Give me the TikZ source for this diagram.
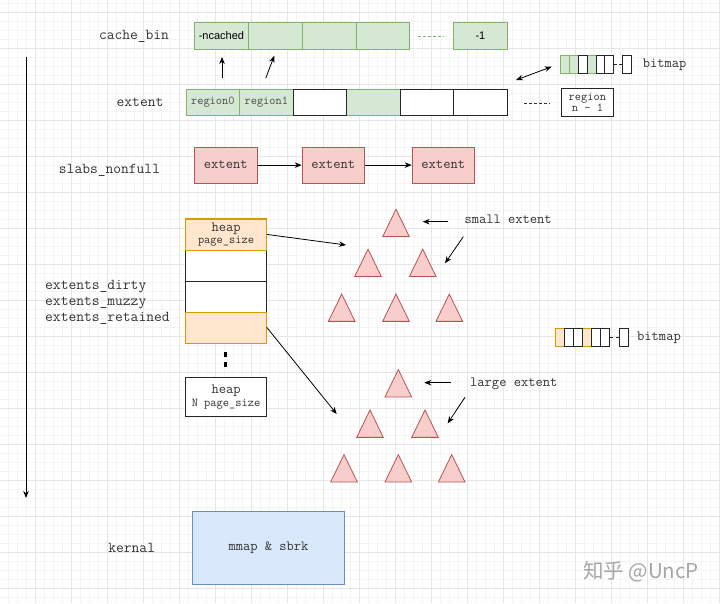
\documentclass[tikz,border=0pt]{standalone}
\usepackage{fontspec}
\setmainfont{Liberation Sans}
\newfontfamily\cjkfont{Noto Sans CJK SC}
\usetikzlibrary{arrows.meta,calc}
\definecolor{gfill}{HTML}{D5E8D4}\definecolor{gline}{HTML}{82B366}
\definecolor{rfill}{HTML}{F8CECC}\definecolor{rline}{HTML}{B85450}
\definecolor{ofill}{HTML}{FFE6CC}\definecolor{oline}{HTML}{D79B00}
\definecolor{bfill}{HTML}{DAE8FC}\definecolor{bline}{HTML}{6C8EBF}
\definecolor{txt}{HTML}{333333}
\definecolor{gridmaj}{HTML}{E6E6E6}\definecolor{gridmin}{HTML}{F4F4F4}
\tikzset{
  base/.style={inner sep=0pt, anchor=north west, line width=0.8pt},
  gcell/.style={base, draw=gline, fill=gfill},
  wcell/.style={base, draw=black!85, fill=white},
  ocell/.style={base, draw=oline, fill=ofill},
  rcell/.style={base, draw=rline, fill=rfill},
  bcell/.style={base, draw=bline, fill=bfill},
  mono/.style={font=\ttfamily\fontsize{15.1}{16}\selectfont, text=txt, inner sep=0pt},
  monos/.style={font=\ttfamily\fontsize{12.1}{11.8}\selectfont, text=txt},
  monom/.style={font=\ttfamily\fontsize{14.1}{15}\selectfont, text=txt},
  sans/.style={font=\fontsize{11}{13}\selectfont, text=black},
  arr/.style={line width=0.8pt, -{Stealth[length=7pt,width=5.5pt]}},
  darr/.style={line width=0.8pt, {Stealth[length=7pt,width=5.5pt]}-{Stealth[length=7pt,width=5.5pt]}},
  tri/.pic={\draw[line width=0.8pt, draw=rline, fill=rfill] (-13.3,13.65) -- (0,-13.65) -- (13.3,13.65) -- cycle;}
}
\begin{document}
\begin{tikzpicture}[x=1pt,y=-1pt]
\useasboundingbox (0,0) rectangle (720,603);
\fill[white] (0,0) rectangle (720,603);
% grid
\foreach \k in {0,...,80} {\draw[gridmin, line width=0.5pt] ({-0.5+9*\k},0) -- ({-0.5+9*\k},603);}
\foreach \k in {0,...,67} {\draw[gridmin, line width=0.5pt] (0,{3+9*\k}) -- (720,{3+9*\k});}
\foreach \k in {1,...,20} {\draw[gridmaj, line width=0.6pt] ({-0.5+36*\k},0) -- ({-0.5+36*\k},603);}
\foreach \k in {0,...,16} {\draw[gridmaj, line width=0.6pt] (0,{12+36*\k}) -- (720,{12+36*\k});}

% left long arrow
\coordinate (la1) at (26,57);
\coordinate (la2) at (26,498);
\draw[arr] (la1) -- (la2);

% cache_bin row
\node[mono] (lcache) at (134,36) {cache\_bin};
\node[gcell, minimum width=54pt, minimum height=27pt] (c1) at (194,22) {};
\node[sans] at (c1.center) {-ncached};
\node[gcell, minimum width=54pt, minimum height=27pt] (c2) at (248,22) {};
\node[gcell, minimum width=54pt, minimum height=27pt] (c3) at (302,22) {};
\node[gcell, minimum width=53pt, minimum height=27pt] (c4) at (356,22) {};
\node[gcell, minimum width=54pt, minimum height=27pt] (cL) at (453,22) {};
\node[sans] at (cL.center) {-1};
\draw[gline, line width=0.8pt, dash pattern=on 3pt off 2pt] (c4.east) ++(8,0) coordinate (gd1) -- ($(cL.west)+(-10,0)$) coordinate (gd2);

% up arrows
\coordinate (u1a) at (222,78); \coordinate (u1b) at (222,57);
\coordinate (u2a) at (265.7,78.3); \coordinate (u2b) at (274.3,55.7);
\draw[arr] (u1a) -- (u1b);
\draw[arr] (u2a) -- (u2b);

% extent row
\node[mono] (lext) at (140,102) {extent};
\node[gcell, minimum width=53.5pt, minimum height=26.5pt] (e1) at (185.7,88.5) {};
\node[monos, text=black!70] at (e1.center) {region0};
\node[gcell, minimum width=53.5pt, minimum height=26.5pt] (e2) at (239.2,88.5) {};
\node[monos, text=black!70] at (e2.center) {region1};
\node[gcell, minimum width=53.5pt, minimum height=26.5pt] (e4) at (346.2,88.5) {};
\node[wcell, minimum width=53.5pt, minimum height=26.5pt] (e3) at (292.7,88.5) {};
\node[wcell, minimum width=53.5pt, minimum height=26.5pt] (e5) at (399.7,88.5) {};
\node[wcell, minimum width=53.5pt, minimum height=26.5pt] (e6) at (453.2,88.5) {};
\coordinate (dd1) at (524,103.3); \coordinate (dd2) at (549.3,103.3);
\draw[black!80, line width=0.8pt, dash pattern=on 3pt off 2pt] (dd1) -- (dd2);
\node[wcell, minimum width=52.6pt, minimum height=27.4pt, align=center] (en) at (560.7,88.3) {};
\node[monos, align=center] at (en.center) {region\\n - 1};

% double arrow and top bitmap
\coordinate (da1) at (516,80); \coordinate (da2) at (551.7,66.7);
\draw[darr] (da1) -- (da2);
\node[gcell, minimum width=9.3pt, minimum height=18.3pt] (tb1) at (560,55) {};
\node[gcell, minimum width=9pt, minimum height=18.3pt] (tb2) at (569.3,55) {};
\node[gcell, minimum width=8.7pt, minimum height=18.3pt] (tb4) at (587.3,55) {};
\node[wcell, minimum width=9pt, minimum height=18.3pt] (tb3) at (578.3,55) {};
\node[wcell, minimum width=8.3pt, minimum height=18.3pt] (tb5) at (596,55) {};
\node[wcell, minimum width=9pt, minimum height=18.3pt] (tb6) at (604.3,55) {};
\node[wcell, minimum width=9pt, minimum height=18.3pt] (tb7) at (621.7,55) {};
\draw[black!85, line width=0.8pt, dash pattern=on 3pt off 2pt] (tb6.east) -- (tb7.west);
\node[monom, anchor=west, inner sep=0pt] (lbm1) at (642.7,65) {bitmap};

% slabs_nonfull
\node[mono] (lslab) at (109.5,170) {slabs\_nonfull};
\node[rcell, minimum width=62.7pt, minimum height=36pt] (s1) at (194,146.7) {};
\node[monom] at (s1.center) {extent};
\node[rcell, minimum width=62.3pt, minimum height=36pt] (s2) at (301.7,146.7) {};
\node[monom] at (s2.center) {extent};
\node[rcell, minimum width=62.3pt, minimum height=36pt] (s3) at (411.7,146.7) {};
\node[monom] at (s3.center) {extent};
\draw[arr] (s1.east) -- (s2.west);
\draw[arr] (s2.east) -- (s3.west);

% heap column
\node[mono, anchor=west, align=left, font=\ttfamily\fontsize{15.1}{16.2}\selectfont] (lexts) at (45,302.3) {extents\_dirty\\extents\_muzzy\\extents\_retained};
\node[ocell, minimum width=80.7pt, minimum height=31pt] (h1) at (185.3,218.5) {};
\node[monom] at ($(h1.center)+(0,-6)$) {heap};
\node[monos] at ($(h1.center)+(0,6.5)$) {page\_size};
\node[wcell, minimum width=80.7pt, minimum height=31pt] (h2) at (185.3,249.5) {};
\node[wcell, minimum width=80.7pt, minimum height=31pt] (h3) at (185.3,280.5) {};
\node[ocell, minimum width=80.7pt, minimum height=31pt] (h4) at (185.3,311.5) {};
\draw[line width=0.8pt, draw=oline] (h1.north west) rectangle (h1.south east);
\coordinate (hd1) at (225.5,351.7); \coordinate (hd2) at (225.5,368.3);
\draw[black, line width=2.4pt, dash pattern=on 5pt off 5.6pt] (hd1) -- (hd2);
\node[wcell, minimum width=80.7pt, minimum height=38.4pt] (hN) at (185.3,377.3) {};
\node[monom] at ($(hN.center)+(0,-6.5)$) {heap};
\node[monos] at ($(hN.center)+(0,7.5)$) {N page\_size};

% small extents
\pic at (396,222.9) {tri};
\pic at (368,262.8) {tri};
\pic at (422.7,262.8) {tri};
\pic at (341.7,307.7) {tri};
\pic at (396,307.7) {tri};
\pic at (449.3,307.7) {tri};
\coordinate (sa) at (346,245);
\draw[arr] (h1.east) -- (sa);
\coordinate (sx1) at (448.3,221.7); \coordinate (sx2) at (422.7,221.7);
\coordinate (sy1) at (463.3,236.7); \coordinate (sy2) at (445,263.3);
\draw[arr] (sx1) -- (sx2);
\draw[arr] (sy1) -- (sy2);
\node[monom, anchor=west, inner sep=0pt] (lsmall) at (464.3,219) {small extent};

% middle bitmap
\node[ocell, minimum width=9pt, minimum height=17.4pt] (mb1) at (555,328.3) {};
\node[ocell, minimum width=8.7pt, minimum height=17.4pt] (mb4) at (582.3,328.3) {};
\node[wcell, minimum width=9.3pt, minimum height=17.4pt] (mb2) at (564,328.3) {};
\node[wcell, minimum width=9pt, minimum height=17.4pt] (mb3) at (573.3,328.3) {};
\node[wcell, minimum width=9pt, minimum height=17.4pt] (mb5) at (591,328.3) {};
\node[wcell, minimum width=9pt, minimum height=17.4pt] (mb6) at (600,328.3) {};
\node[wcell, minimum width=8.7pt, minimum height=17.4pt] (mb7) at (619,328.3) {};
\draw[black!85, line width=0.8pt, dash pattern=on 3.5pt off 2.5pt] (mb6.east) -- (mb7.west);
\node[monom, anchor=west, inner sep=0pt] (lbm2) at (637,337.7) {bitmap};

% large extents
\pic at (398.3,383.3) {tri};
\pic at (370,423.7) {tri};
\pic at (425,423.7) {tri};
\pic at (344,468.3) {tri};
\pic at (398.3,468.3) {tri};
\pic at (451.7,468.3) {tri};
\coordinate (la) at (336.7,414);
\draw[arr] (h4.east) -- (la);
\coordinate (lx1) at (451,382.7); \coordinate (lx2) at (424.3,382.7);
\coordinate (ly1) at (465,397.3); \coordinate (ly2) at (447.7,423.3);
\draw[arr] (lx1) -- (lx2);
\draw[arr] (ly1) -- (ly2);
\node[monom, anchor=west, inner sep=0pt] (llarge) at (470,384) {large extent};

% kernal
\node[mono] (lkern) at (131.7,547.7) {kernal};
\node[bcell, minimum width=151.7pt, minimum height=73.3pt] (k) at (192.3,510.7) {};
\node[monom] at (k.center) {mmap \& sbrk};

% watermark
\node[font=\cjkfont\fontsize{20.5}{22}\selectfont, text=black!35, inner sep=0pt] (wm) at (641,572) {知乎 @UncP};
\end{tikzpicture}
\end{document}
